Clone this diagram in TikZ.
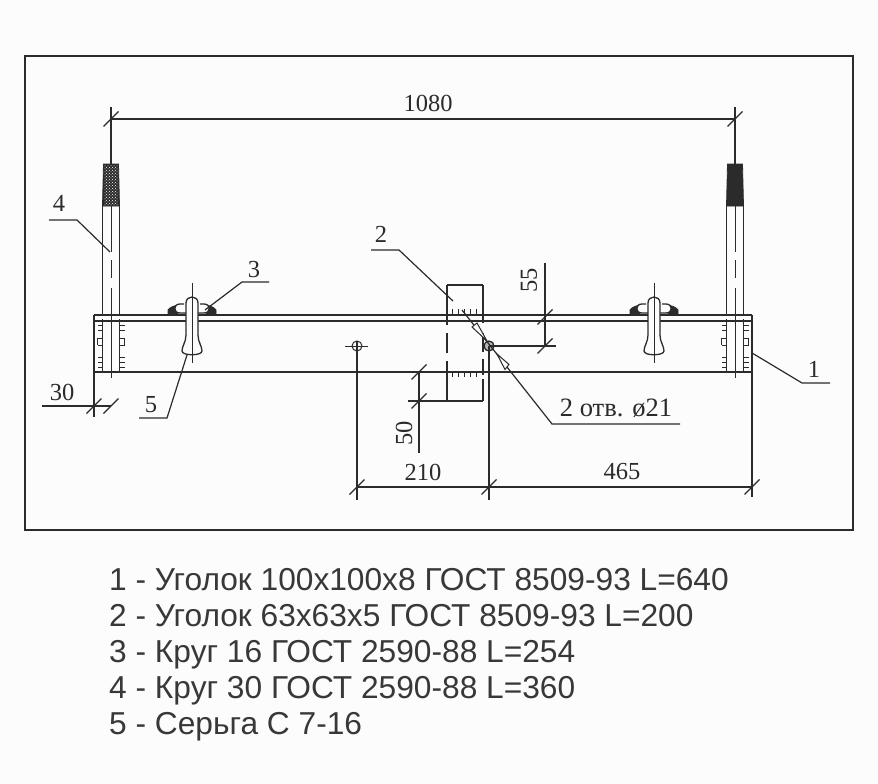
\documentclass[tikz,border=0pt]{standalone}
\usepackage{fontspec}
\setmainfont{Liberation Serif}
\newfontfamily\listfont{Liberation Sans}
\usetikzlibrary{patterns}
\definecolor{ink}{HTML}{2B2B2B}
\definecolor{paper}{HTML}{FCFCFC}
\tikzset{
  ln/.style={draw=ink,line width=1.3pt},
  thin ln/.style={draw=ink,line width=1pt},
  dimline/.style={draw=ink,line width=1.2pt},
  thread/.style={fill=ink,draw=ink,line width=.8pt},
  dimtext/.style={font=\fontsize{24.5}{26}\selectfont,text=ink,inner sep=0pt},
  listtext/.style={font=\listfont\fontsize{31.7}{34}\selectfont,text=black!78,inner sep=0pt,anchor=base west},
}
\newcommand{\dtick}[2]{\draw[dimline] (#1-7.5,#2+7.5) -- (#1+7.5,#2-7.5);}
% serga at centre x
\newcommand{\serga}[1]{
  \draw[ln,fill=paper] (#1-6,314) -- (#1-6,303) .. controls (#1-6,295) and (#1+6,295) .. (#1+6,303) -- (#1+6,335)
    .. controls (#1+6,342) and (#1+10,346) .. (#1+10,351) .. controls (#1+10,356) and (#1-10,356) .. (#1-10,351)
    .. controls (#1-10,346) and (#1-6,342) .. (#1-6,335) -- cycle;
  \draw[thin ln] (#1,283) -- (#1,363);
}
% rod at centre x
\newcommand{\rod}[1]{
  \draw[ln] (#1-8.5,315) -- (#1-8.5,206) (#1+8.5,315) -- (#1+8.5,206);
  \draw[thread] (#1-7.5,164) -- (#1+7.5,164) -- (#1+8.5,206) -- (#1-8.5,206) -- cycle;
  \draw[thin ln] (#1,206) -- (#1,252) (#1,260) -- (#1,278) (#1,288) -- (#1,378);
  \draw[thin ln] (#1-8.5,319) -- (#1-8.5,372) (#1+8.5,319) -- (#1+8.5,372);
  \foreach \s/\d in {-1/-5,1/5}{
    \foreach \yy in {325,330,338,345,357,362,367}{
      \draw[thin ln] (#1+\s*8.5,\yy) -- (#1+\s*8.5+\d,\yy);
    }
    \draw[thin ln] (#1+\s*8.5+\d,338) -- (#1+\s*8.5+\d,345);
  }
}
\begin{document}
\begin{tikzpicture}[x=1pt,y=-1pt]
\useasboundingbox (0,0) rectangle (878,784);
\fill[paper] (0,0) rectangle (878,784);
\draw[draw=ink,line width=1.6pt] (25,56) rectangle (853,530);

% beam
\draw[ln] (94,315) -- (752,315) (94,321) -- (752,321) (94,372) -- (752,372);
\draw[ln] (94,315) -- (94,417);
\draw[ln] (752,315) -- (752,497);

% rods
\rod{111}
\rod{735}
\fill[pattern=crosshatch dots,pattern color=white] (104,165) rectangle (118,205);

% part 3 with welds, both sides
\foreach \c in {192,654}{
  \draw[thread] (\c-24,314) -- (\c-24,310) .. controls (\c-22,307) and (\c-18,306) .. (\c-14,305) -- (\c-14,314) -- cycle;
  \draw[thread] (\c+24,314) -- (\c+24,310) .. controls (\c+22,307) and (\c+18,306) .. (\c+14,305) -- (\c+14,314) -- cycle;
  \draw[ln,fill=paper] (\c-8,304) -- (\c-12,304) .. controls (\c-19,304) and (\c-19,313) .. (\c-12,313) -- (\c-8,313) -- (\c+8,313) -- (\c+12,313) .. controls (\c+19,313) and (\c+19,304) .. (\c+12,304) -- (\c+8,304);
  \serga{\c}
}

% part 2
\draw[ln] (447,285) -- (483,285);
\draw[ln] (447,285) -- (447,325) (447,333) -- (447,353) (447,361) -- (447,401) -- (483,401);
\draw[ln] (483,285) -- (483,323) (483,333) -- (483,352) (483,359) -- (483,375) (483,379) -- (483,401);
\foreach \xx in {452,458,464,470,476}{
  \draw[thin ln] (\xx,309) -- (\xx,314);
  \draw[thin ln] (\xx,372) -- (\xx,377);
}

% holes
\coordinate (holeA) at (357,346);
\coordinate (holeB) at (489,346);
\draw[thin ln] (holeA) circle (5);
\draw[thin ln] (345,346) -- (368,346);
\draw[ln] (357,341) -- (357,500);
\draw[ln,fill=ink!35] (holeB) circle (5);
\draw[ln] (489,346) -- (489,500);

% dimension 1080
\coordinate (d1l) at (111,119);
\coordinate (d1r) at (735,119);
\draw[ln] (111,107) -- (111,164) (735,107) -- (735,164);
\draw[dimline] (d1l) -- (d1r);
\dtick{111}{119}\dtick{735}{119}
\node[dimtext] (t1080) at (428,103) {1080};

% dimension 30
\coordinate (d30a) at (42,406);
\coordinate (d30b) at (111,406);
\draw[dimline] (d30a) -- (d30b);
\dtick{94}{406}\dtick{111}{406}
\node[dimtext] (t30) at (62,392) {30};

% dimension 55
\coordinate (d55t) at (545,263);
\coordinate (d55b) at (545,346);
\draw[dimline] (d55t) -- (d55b);
\draw[dimline] (489,346) -- (556,346);
\dtick{545}{317}\dtick{545}{346}
\node[dimtext,rotate=90] (t55) at (529,280) {55};

% dimension 50
\coordinate (d50t) at (419,372);
\coordinate (d50b) at (419,453);
\draw[dimline] (d50t) -- (d50b);
\draw[dimline] (408,401) -- (447,401);
\dtick{419}{372}\dtick{419}{401}
\node[dimtext,rotate=90] (t50) at (404,433) {50};

% dimensions 210 and 465
\coordinate (d2a) at (357,487);
\coordinate (d2b) at (489,487);
\coordinate (d2c) at (752,487);
\draw[dimline] (d2a) -- (d2c);
\dtick{357}{487}\dtick{489}{487}\dtick{752}{487}
\node[dimtext] (t210) at (423,472) {210};
\node[dimtext] (t465) at (622,472) {465};

% leaders
\coordinate (l4a) at (49,220);\coordinate (l4b) at (77,220);\coordinate (l4c) at (110,252);
\draw[dimline] (l4a) -- (l4b) -- (l4c);
\node[dimtext] (t4) at (59,203) {4};
\coordinate (l5a) at (139,418);\coordinate (l5b) at (167,418);\coordinate (l5c) at (187,355);
\draw[dimline] (l5a) -- (l5b) -- (l5c);
\node[dimtext] (t5) at (151,405) {5};
\coordinate (l3a) at (269,282);\coordinate (l3b) at (242,282);\coordinate (l3c) at (205,310);
\draw[dimline] (l3a) -- (l3b) -- (l3c);
\node[dimtext] (t3) at (254,270) {3};
\coordinate (l2a) at (371,250);\coordinate (l2b) at (399,250);\coordinate (l2c) at (453,301);
\draw[dimline] (l2a) -- (l2b) -- (l2c);
\node[dimtext] (t2) at (381,234) {2};
\coordinate (l1a) at (830,383);\coordinate (l1b) at (802,383);\coordinate (l1c) at (752,353);
\draw[dimline] (l1a) -- (l1b) -- (l1c);
\node[dimtext] (t1) at (814,369) {1};
\coordinate (lha) at (680,424);\coordinate (lhb) at (552,424);\coordinate (lhc) at (462,310);
\draw[dimline] (lha) -- (lhb) -- (lhc);
\draw[thin ln,fill=paper] (472,327) -- (477,323) -- (487,341) -- cycle;
\draw[thin ln,fill=paper] (497,354) -- (509,364.5) -- (505,369.5) -- cycle;
\node[dimtext,font=\fontsize{26.5}{28}\selectfont] (thole) at (616,408) {2 отв. ø21};

% parts list
\node[listtext] (p1) at (109,590.5) {1 - Уголок 100х100х8 ГОСТ 8509-93 L=640};
\node[listtext] (p2) at (109,626.5) {2 - Уголок 63х63х5 ГОСТ 8509-93 L=200};
\node[listtext] (p3) at (109,662.5) {3 - Круг 16 ГОСТ 2590-88 L=254};
\node[listtext] (p4) at (109,698.5) {4 - Круг 30 ГОСТ 2590-88 L=360};
\node[listtext] (p5) at (109,734.5) {5 - Серьга С 7-16};
\end{tikzpicture}
\end{document}
